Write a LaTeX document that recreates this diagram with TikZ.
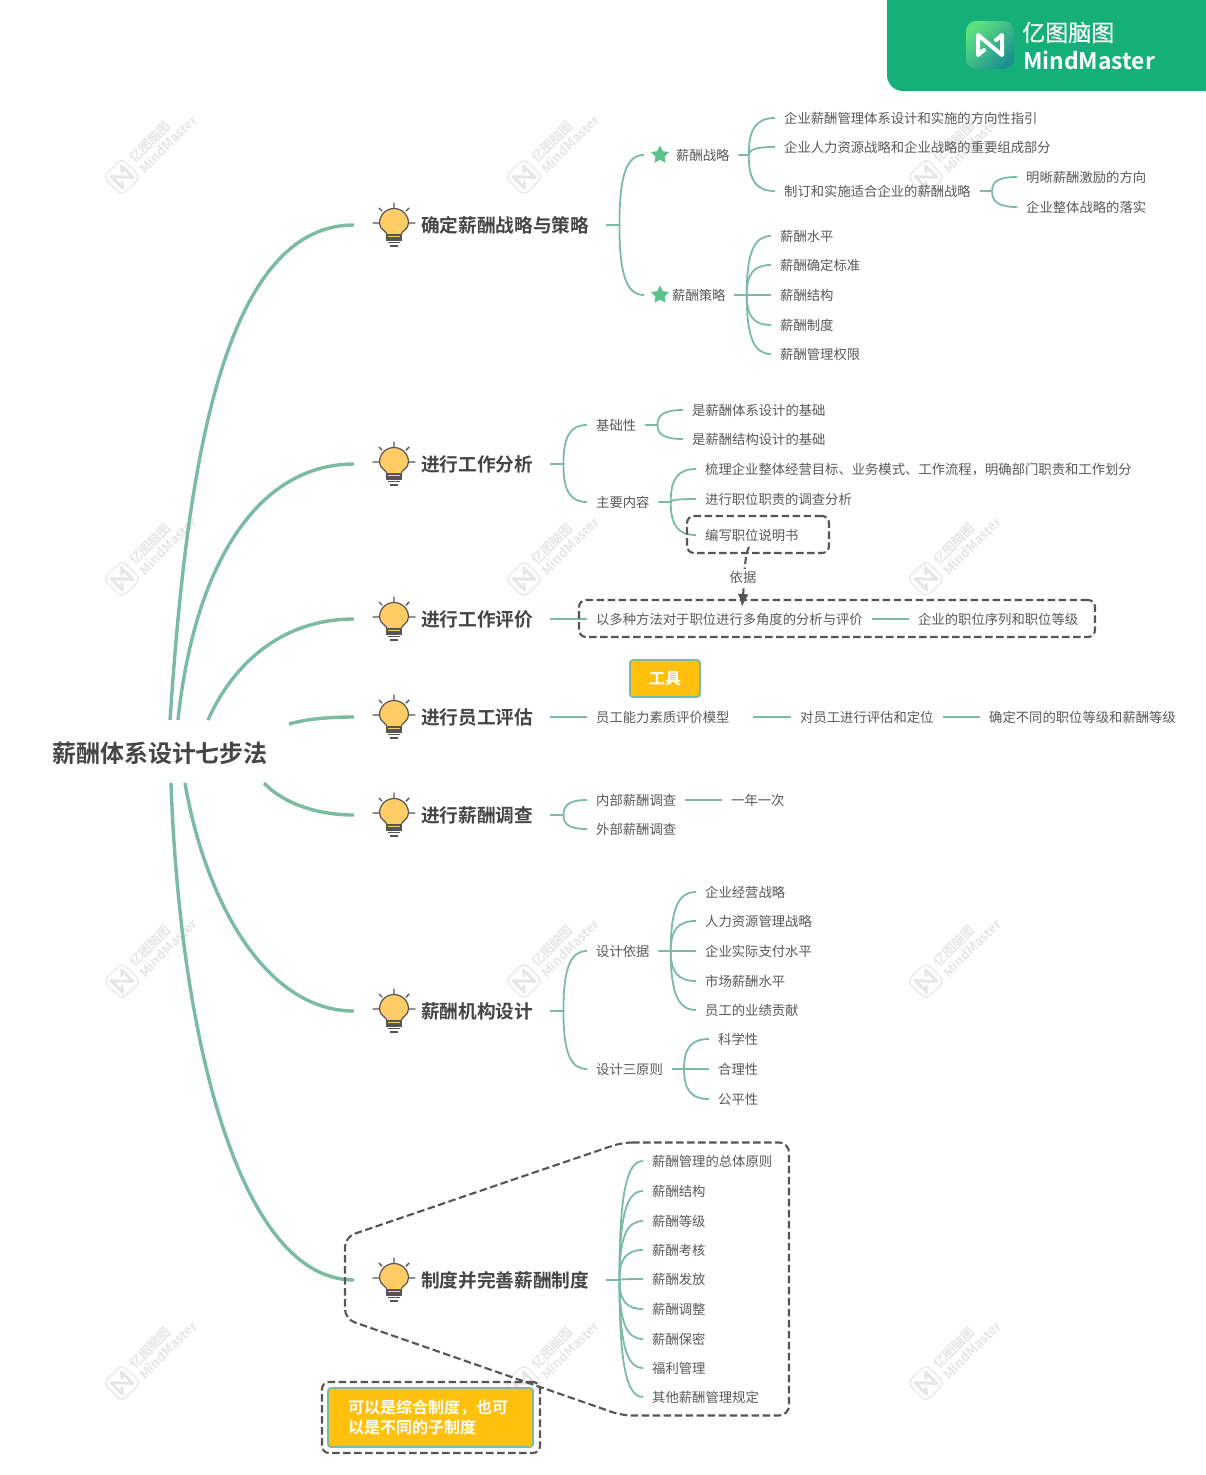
\documentclass[tikz,border=0pt]{standalone}
\usepackage{fontspec}
\setmainfont{Noto Sans CJK SC}[BoldFont={Noto Sans CJK SC Bold}]
\newfontfamily\medf{Noto Sans CJK SC}[FakeBold=0.4]
\usetikzlibrary{calc,shapes.geometric,arrows.meta}
\definecolor{brc}{HTML}{7ABBA2}
\definecolor{txc}{HTML}{595959}
\definecolor{tpc}{HTML}{454545}
\definecolor{dsh}{HTML}{555555}
\definecolor{ylw}{HTML}{FFC00E}
\definecolor{grn}{HTML}{15B07A}
\definecolor{stc}{HTML}{5BC08A}
\definecolor{wmc}{HTML}{E6E6E6}
\definecolor{blb}{HTML}{FFCC66}
\definecolor{lga}{HTML}{5FE07F}
\definecolor{lgb}{HTML}{1A9090}
\newcommand\fs[1]{\fontsize{#1}{#1}\selectfont}
\tikzset{
  x=1pt,y=-1pt,
  leaf/.style={anchor=west,xshift=-9pt,inner xsep=9pt,inner ysep=2pt,text=txc,font=\fs{13.33},text height=11.6pt,text depth=1.6pt},
  topic/.style={anchor=west,xshift=-67pt,inner xsep=17pt,inner ysep=2pt,text=tpc,font=\bfseries\fs{18.67}},
  mainbr/.style={draw=brc,line width=3.4pt},
  br/.style={draw=brc,line width=1.8pt},
  dashbox/.style={draw=dsh,line width=2.1pt,dash pattern=on 7.5pt off 3.5pt,rounded corners=7pt},
  yellowbox/.style={fill=ylw,draw=brc,line width=1.8pt,rounded corners=3pt,text=white,font=\bfseries\fs{16}},
  starnode/.style={star,star points=5,star point ratio=2.0,fill=stc,minimum size=19pt,inner sep=0pt},
  bulb/.pic={
    \draw[dsh,line width=1.4pt,line cap=round] (0,-22)--(0,-17) (-15,-17)--(-12,-14) (15,-17)--(12,-14) (-21,-2)--(-15,-2) (21,-2)--(15,-2);
    \draw[fill=blb,draw=dsh,line width=1.2pt] (-7,10) .. controls (-7,6) and (-14.5,5) .. (-14.5,-2) arc[start angle=180,end angle=360,radius=14.5] .. controls (14.5,5) and (7,6) .. (7,10) -- cycle;
    \draw[fill=blb,draw=dsh,line width=1.1pt] (-7,10) rectangle (7,15);
    \draw[dsh,line width=1.5pt] (-7,13)--(7,13) (-6,17.5)--(6,17.5);
    \draw[dsh,line width=2pt] (-4,21)--(4,21);
  }
}
\newcommand\lf[4]{\node[leaf] (#1) at (#2,#3) {#4};}
\newcommand\tp[3]{\node[topic] (#1) at (421,#2) {\hspace*{50pt}#3}; \pic at (394,#2) {bulb};}
\newcommand\fork[3]{\path (#1.east) ++(#2,0) coordinate (fk);
  \draw[br] (#1.east) -- (fk) .. controls ($(fk)!0.72!(fk |- #3.west)$) and ($(fk |- #3.west)!0.3!(#3.west)$) .. (#3.west);}
\newcommand\wm[3]{%
  \node[draw=wmc,fill=white,line width=1.2pt,rounded corners=5pt,minimum size=26pt,inner sep=0pt,rotate=45] (wm#1) at (#2,#3) {};
  \begin{scope}[shift={(wm#1)},rotate=45]
    \draw[wmc,line width=3pt,line join=round,line cap=round] (-3.5,3.5)--(-7.5,8)--(-7.5,-8)--(7.5,8)--(7.5,-8)--(3.5,-3.5);
  \end{scope}
  \node[rotate=45,text=wmc,font=\bfseries\fs{13}] (wm#1a) at ($(wm#1)+(28,-35)$) {亿图脑图};
  \node[rotate=45,text=wmc,font=\bfseries\fs{13}] (wm#1b) at ($(wm#1)+(46,-33)$) {MindMaster};
}
\begin{document}
\begin{tikzpicture}
\useasboundingbox (0,0) rectangle (1206,1475);
\fill[white] (0,0) rectangle (1206,1475);
% watermarks
\wm{a}{122}{177}\wm{b}{524}{177}\wm{c}{926}{177}
\wm{d}{122}{579}\wm{e}{524}{579}\wm{f}{926}{579}
\wm{g}{122}{981}\wm{h}{524}{981}\wm{i}{926}{981}
\wm{j}{122}{1383}\wm{k}{524}{1383}\wm{l}{926}{1383}
% banner
\fill[grn] (887,0) [rounded corners=16pt] -- (887,91) [sharp corners] -- (1206,91) -- (1206,0) -- cycle;
\node[minimum size=48pt,inner sep=0pt,rounded corners=10pt,top color=lga,bottom color=lgb,shading angle=45] (logo) at (990,45) {};
\draw[white,line width=4pt,line join=round,line cap=round] (984,50)--(978,55)--(978,35)--(1002,55)--(1002,35)--(996,40);
\node[anchor=west,inner sep=0pt,text=white,font=\medf\fs{23}] (logoa) at (1022,32.5) {亿图脑图};
\node[anchor=west,inner sep=0pt,text=white,font=\bfseries\fs{22.8}] (logob) at (1023,60) {MindMaster};
% root
\node[text=tpc,font=\bfseries\fs{24},inner sep=0pt,minimum width=216pt,minimum height=30pt] (root) at (160,753) {薪酬体系设计七步法};
\coordinate (r1) at (170,720);\coordinate (r2) at (178,720);\coordinate (r3) at (208,720);\coordinate (r4) at (289,724);
\coordinate (r5) at (264,783);\coordinate (r6) at (185,783);\coordinate (r7) at (171,783);
% topics
\tp{t1}{225}{确定薪酬战略与策略}
\tp{t2}{464}{进行工作分析}
\tp{t3}{619}{进行工作评价}
\tp{t4}{717}{进行员工评估}
\tp{t5}{815}{进行薪酬调查}
\tp{t6}{1011}{薪酬机构设计}
\tp{t7}{1280}{制度并完善薪酬制度}
\draw[mainbr] (r1) .. controls (185,500) and (215,225) .. (t1.west);
\draw[mainbr] (r2) .. controls (195,560) and (260,464) .. (t2.west);
\draw[mainbr] (r3) .. controls (235,660) and (285,619) .. (t3.west);
\draw[mainbr] (r4) .. controls (310,718) and (335,717) .. (t4.west);
\draw[mainbr] (r5) .. controls (285,805) and (320,815) .. (t5.west);
\draw[mainbr] (r6) .. controls (205,900) and (265,1011) .. (t6.west);
\draw[mainbr] (r7) .. controls (180,1040) and (240,1280) .. (t7.west);
% topic 1
\node[leaf] (s1) at (653,155) {\hspace*{23pt}薪酬战略};
\node[starnode] (s1s) at (660,155) {};
\node[leaf] (s2) at (653,295) {\hspace*{19pt}薪酬策略};
\node[starnode] (s2s) at (660,295) {};
\fork{t1}{13}{s1}\fork{t1}{13}{s2}
\lf{a1}{784}{118}{企业薪酬管理体系设计和实施的方向性指引}
\lf{a2}{784}{147}{企业人力资源战略和企业战略的重要组成部分}
\lf{a3}{784}{191}{制订和实施适合企业的薪酬战略}
\fork{s1}{10}{a1}\fork{s1}{10}{a2}\fork{s1}{10}{a3}
\lf{a4}{1026}{177}{明晰薪酬激励的方向}
\lf{a5}{1026}{207}{企业整体战略的落实}
\fork{a3}{12}{a4}\fork{a3}{12}{a5}
\lf{b1}{780}{236}{薪酬水平}
\lf{b2}{780}{265}{薪酬确定标准}
\lf{b3}{780}{295}{薪酬结构}
\lf{b4}{780}{325}{薪酬制度}
\lf{b5}{780}{354}{薪酬管理权限}
\fork{s2}{12}{b1}\fork{s2}{12}{b2}\fork{s2}{12}{b3}\fork{s2}{12}{b4}\fork{s2}{12}{b5}
% topic 2
\lf{c1}{596}{425}{基础性}
\lf{c2}{596}{502}{主要内容}
\fork{t2}{13}{c1}\fork{t2}{13}{c2}
\lf{c3}{692}{410}{是薪酬体系设计的基础}
\lf{c4}{692}{439}{是薪酬结构设计的基础}
\fork{c1}{12}{c3}\fork{c1}{12}{c4}
\lf{c5}{705}{469}{梳理企业整体经营目标、业务模式、工作流程，明确部门职责和工作划分}
\lf{c6}{705}{499}{进行职位职责的调查分析}
\lf{c7}{705}{535}{编写职位说明书}
\fork{c2}{12}{c5}\fork{c2}{12}{c6}\fork{c2}{12}{c7}
\node[dashbox,minimum width=142pt,minimum height=37pt,inner sep=0pt] (bx1) at (758,534.5) {};
% topic 3
\lf{d1}{596}{619}{以多种方法对于职位进行多角度的分析与评价}
\lf{d2}{918}{619}{企业的职位序列和职位等级}
\draw[br] (t3.east) -- (d1.west);
\draw[br] (d1.east) -- (d2.west);
\node[dashbox,minimum width=516pt,minimum height=37pt,inner sep=0pt] (bx2) at (837,618.5) {};
% relation
\coordinate (ra) at (749,547);
\coordinate (rb) at (742,607);
\draw[dsh,line width=2.1pt,dash pattern=on 7pt off 3.5pt,-{Latex[length=13pt,width=11pt]}] (ra) .. controls (744,556) and (744,585) .. (rb);
\node[fill=white,text=txc,font=\fs{13.33},inner xsep=1pt,inner ysep=2pt] (rel) at (743,577) {依据};
% tool
\node[yellowbox,minimum width=70pt,minimum height=37pt,inner sep=0pt] (tool) at (665,678.5) {工具};
% topic 4
\lf{e1}{596}{717}{员工能力素质评价模型}
\lf{e2}{800}{717}{对员工进行评估和定位}
\lf{e3}{989}{717}{确定不同的职位等级和薪酬等级}
\draw[br] (t4.east) -- (e1.west);
\draw[br] ($(e1.east)+(14,0)$) -- (e2.west);
\draw[br] (e2.east) -- (e3.west);
% topic 5
\lf{f1}{596}{800}{内部薪酬调查}
\lf{f2}{596}{829}{外部薪酬调查}
\lf{f3}{731}{800}{一年一次}
\fork{t5}{13}{f1}\fork{t5}{13}{f2}
\draw[br] (f1.east) -- (f3.west);
% topic 6
\lf{g1}{596}{951}{设计依据}
\lf{g2}{596}{1069}{设计三原则}
\fork{t6}{13}{g1}\fork{t6}{13}{g2}
\lf{g3}{705}{892}{企业经营战略}
\lf{g4}{705}{921}{人力资源管理战略}
\lf{g5}{705}{951}{企业实际支付水平}
\lf{g6}{705}{981}{市场薪酬水平}
\lf{g7}{705}{1010}{员工的业绩贡献}
\fork{g1}{12}{g3}\fork{g1}{12}{g4}\fork{g1}{12}{g5}\fork{g1}{12}{g6}\fork{g1}{12}{g7}
\lf{g8}{718}{1039}{科学性}
\lf{g9}{718}{1069}{合理性}
\lf{g0}{718}{1099}{公平性}
\fork{g2}{12}{g8}\fork{g2}{12}{g9}\fork{g2}{12}{g0}
% topic 7
\lf{h1}{652}{1161}{薪酬管理的总体原则}
\lf{h2}{652}{1191}{薪酬结构}
\lf{h3}{652}{1221}{薪酬等级}
\lf{h4}{652}{1250}{薪酬考核}
\lf{h5}{652}{1279}{薪酬发放}
\lf{h6}{652}{1309}{薪酬调整}
\lf{h7}{652}{1339}{薪酬保密}
\lf{h8}{652}{1368}{福利管理}
\lf{h9}{652}{1397}{其他薪酬管理规定}
\fork{t7}{13}{h1}\fork{t7}{13}{h2}\fork{t7}{13}{h3}\fork{t7}{13}{h4}\fork{t7}{13}{h5}\fork{t7}{13}{h6}\fork{t7}{13}{h7}\fork{t7}{13}{h8}\fork{t7}{13}{h9}
\draw[dashbox,rounded corners=10pt] (622,1142.5) -- (789,1142.5) -- (789,1415.5) -- (622,1415.5) -- (345,1319) -- (345,1237) -- cycle;
% note
\node[dashbox,minimum width=218pt,minimum height=71pt,inner sep=0pt] (nb) at (431,1417.5) {};
\node[yellowbox,minimum width=205pt,minimum height=59pt,inner sep=0pt] (note) at (430.5,1417.5) {};
\node[anchor=west,inner sep=0pt,text=white,font=\bfseries\fs{16},align=left] (notet) at (348,1417) {可以是综合制度，也可\\[4pt]以是不同的子制度};
\end{tikzpicture}
\end{document}
